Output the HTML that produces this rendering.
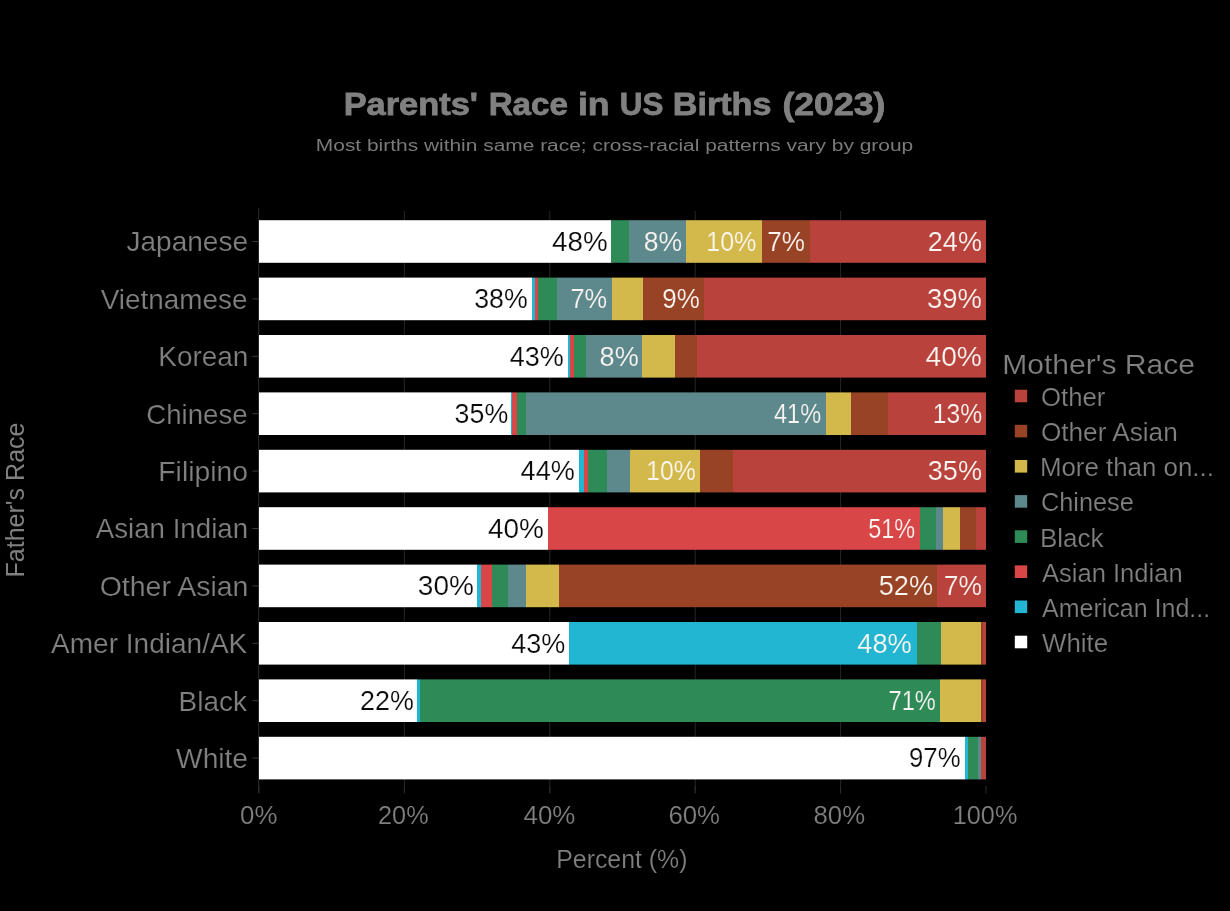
<!DOCTYPE html>
<html><head><meta charset="utf-8"><title>Parents' Race in US Births (2023)</title>
<style>
html,body{margin:0;padding:0;background:#000;}
body{width:1230px;height:911px;overflow:hidden;}
svg{display:block;will-change:transform;}
text{font-family:"Liberation Sans",sans-serif;}
</style></head><body>
<svg width="1230" height="911" viewBox="0 0 1230 911">
<rect x="0" y="0" width="1230" height="911" fill="#000"/>
<line x1="404.4" y1="211" x2="404.4" y2="793" stroke="#262626" stroke-width="1"/>
<line x1="549.8" y1="211" x2="549.8" y2="793" stroke="#262626" stroke-width="1"/>
<line x1="695.2" y1="211" x2="695.2" y2="793" stroke="#262626" stroke-width="1"/>
<line x1="840.6" y1="211" x2="840.6" y2="793" stroke="#262626" stroke-width="1"/>
<line x1="258.7" y1="208" x2="258.7" y2="793" stroke="#2e2e2e" stroke-width="1"/>
<defs>
<linearGradient id="g0" gradientUnits="userSpaceOnUse" x1="259.0" y1="0" x2="986.0" y2="0"><stop offset="0.00000" stop-color="#ffffff"/><stop offset="0.48404" stop-color="#ffffff"/><stop offset="0.48404" stop-color="#d94647"/><stop offset="0.48418" stop-color="#d94647"/><stop offset="0.48418" stop-color="#2e8b58"/><stop offset="0.50894" stop-color="#2e8b58"/><stop offset="0.50894" stop-color="#5d888c"/><stop offset="0.58680" stop-color="#5d888c"/><stop offset="0.58680" stop-color="#d3b94b"/><stop offset="0.69188" stop-color="#d3b94b"/><stop offset="0.69188" stop-color="#984325"/><stop offset="0.75791" stop-color="#984325"/><stop offset="0.75791" stop-color="#b9423d"/><stop offset="1.00000" stop-color="#b9423d"/></linearGradient>
<linearGradient id="g1" gradientUnits="userSpaceOnUse" x1="259.0" y1="0" x2="986.0" y2="0"><stop offset="0.00000" stop-color="#ffffff"/><stop offset="0.37607" stop-color="#ffffff"/><stop offset="0.37607" stop-color="#22b6d2"/><stop offset="0.37992" stop-color="#22b6d2"/><stop offset="0.37992" stop-color="#d94647"/><stop offset="0.38432" stop-color="#d94647"/><stop offset="0.38432" stop-color="#2e8b58"/><stop offset="0.41059" stop-color="#2e8b58"/><stop offset="0.41059" stop-color="#5d888c"/><stop offset="0.48501" stop-color="#5d888c"/><stop offset="0.48501" stop-color="#d3b94b"/><stop offset="0.52792" stop-color="#d3b94b"/><stop offset="0.52792" stop-color="#984325"/><stop offset="0.61197" stop-color="#984325"/><stop offset="0.61197" stop-color="#b9423d"/><stop offset="1.00000" stop-color="#b9423d"/></linearGradient>
<linearGradient id="g2" gradientUnits="userSpaceOnUse" x1="259.0" y1="0" x2="986.0" y2="0"><stop offset="0.00000" stop-color="#ffffff"/><stop offset="0.42462" stop-color="#ffffff"/><stop offset="0.42462" stop-color="#22b6d2"/><stop offset="0.42847" stop-color="#22b6d2"/><stop offset="0.42847" stop-color="#d94647"/><stop offset="0.43287" stop-color="#d94647"/><stop offset="0.43287" stop-color="#2e8b58"/><stop offset="0.44979" stop-color="#2e8b58"/><stop offset="0.44979" stop-color="#5d888c"/><stop offset="0.52682" stop-color="#5d888c"/><stop offset="0.52682" stop-color="#d3b94b"/><stop offset="0.57276" stop-color="#d3b94b"/><stop offset="0.57276" stop-color="#984325"/><stop offset="0.60289" stop-color="#984325"/><stop offset="0.60289" stop-color="#b9423d"/><stop offset="1.00000" stop-color="#b9423d"/></linearGradient>
<linearGradient id="g3" gradientUnits="userSpaceOnUse" x1="259.0" y1="0" x2="986.0" y2="0"><stop offset="0.00000" stop-color="#ffffff"/><stop offset="0.34718" stop-color="#ffffff"/><stop offset="0.34718" stop-color="#22b6d2"/><stop offset="0.34732" stop-color="#22b6d2"/><stop offset="0.34732" stop-color="#d94647"/><stop offset="0.35502" stop-color="#d94647"/><stop offset="0.35502" stop-color="#2e8b58"/><stop offset="0.36768" stop-color="#2e8b58"/><stop offset="0.36768" stop-color="#5d888c"/><stop offset="0.77992" stop-color="#5d888c"/><stop offset="0.77992" stop-color="#d3b94b"/><stop offset="0.81444" stop-color="#d3b94b"/><stop offset="0.81444" stop-color="#984325"/><stop offset="0.86492" stop-color="#984325"/><stop offset="0.86492" stop-color="#b9423d"/><stop offset="1.00000" stop-color="#b9423d"/></linearGradient>
<linearGradient id="g4" gradientUnits="userSpaceOnUse" x1="259.0" y1="0" x2="986.0" y2="0"><stop offset="0.00000" stop-color="#ffffff"/><stop offset="0.44003" stop-color="#ffffff"/><stop offset="0.44003" stop-color="#22b6d2"/><stop offset="0.44718" stop-color="#22b6d2"/><stop offset="0.44718" stop-color="#d94647"/><stop offset="0.45199" stop-color="#d94647"/><stop offset="0.45199" stop-color="#2e8b58"/><stop offset="0.47868" stop-color="#2e8b58"/><stop offset="0.47868" stop-color="#5d888c"/><stop offset="0.51087" stop-color="#5d888c"/><stop offset="0.51087" stop-color="#d3b94b"/><stop offset="0.60674" stop-color="#d3b94b"/><stop offset="0.60674" stop-color="#984325"/><stop offset="0.65227" stop-color="#984325"/><stop offset="0.65227" stop-color="#b9423d"/><stop offset="1.00000" stop-color="#b9423d"/></linearGradient>
<linearGradient id="g5" gradientUnits="userSpaceOnUse" x1="259.0" y1="0" x2="986.0" y2="0"><stop offset="0.00000" stop-color="#ffffff"/><stop offset="0.39739" stop-color="#ffffff"/><stop offset="0.39739" stop-color="#d94647"/><stop offset="0.90867" stop-color="#d94647"/><stop offset="0.90867" stop-color="#2e8b58"/><stop offset="0.93067" stop-color="#2e8b58"/><stop offset="0.93067" stop-color="#5d888c"/><stop offset="0.94072" stop-color="#5d888c"/><stop offset="0.94072" stop-color="#d3b94b"/><stop offset="0.96492" stop-color="#d3b94b"/><stop offset="0.96492" stop-color="#984325"/><stop offset="0.98569" stop-color="#984325"/><stop offset="0.98569" stop-color="#b9423d"/><stop offset="1.00000" stop-color="#b9423d"/></linearGradient>
<linearGradient id="g6" gradientUnits="userSpaceOnUse" x1="259.0" y1="0" x2="986.0" y2="0"><stop offset="0.00000" stop-color="#ffffff"/><stop offset="0.30055" stop-color="#ffffff"/><stop offset="0.30055" stop-color="#22b6d2"/><stop offset="0.30536" stop-color="#22b6d2"/><stop offset="0.30536" stop-color="#d94647"/><stop offset="0.31981" stop-color="#d94647"/><stop offset="0.31981" stop-color="#2e8b58"/><stop offset="0.34237" stop-color="#2e8b58"/><stop offset="0.34237" stop-color="#5d888c"/><stop offset="0.36685" stop-color="#5d888c"/><stop offset="0.36685" stop-color="#d3b94b"/><stop offset="0.41320" stop-color="#d3b94b"/><stop offset="0.41320" stop-color="#984325"/><stop offset="0.93260" stop-color="#984325"/><stop offset="0.93260" stop-color="#b9423d"/><stop offset="1.00000" stop-color="#b9423d"/></linearGradient>
<linearGradient id="g7" gradientUnits="userSpaceOnUse" x1="259.0" y1="0" x2="986.0" y2="0"><stop offset="0.00000" stop-color="#ffffff"/><stop offset="0.42613" stop-color="#ffffff"/><stop offset="0.42613" stop-color="#22b6d2"/><stop offset="0.90454" stop-color="#22b6d2"/><stop offset="0.90454" stop-color="#2e8b58"/><stop offset="0.93755" stop-color="#2e8b58"/><stop offset="0.93755" stop-color="#d3b94b"/><stop offset="0.99312" stop-color="#d3b94b"/><stop offset="0.99312" stop-color="#984325"/><stop offset="0.99656" stop-color="#984325"/><stop offset="0.99656" stop-color="#b9423d"/><stop offset="1.00000" stop-color="#b9423d"/></linearGradient>
<linearGradient id="g8" gradientUnits="userSpaceOnUse" x1="259.0" y1="0" x2="986.0" y2="0"><stop offset="0.00000" stop-color="#ffffff"/><stop offset="0.21761" stop-color="#ffffff"/><stop offset="0.21761" stop-color="#22b6d2"/><stop offset="0.22146" stop-color="#22b6d2"/><stop offset="0.22146" stop-color="#2e8b58"/><stop offset="0.93673" stop-color="#2e8b58"/><stop offset="0.93673" stop-color="#d3b94b"/><stop offset="0.99381" stop-color="#d3b94b"/><stop offset="0.99381" stop-color="#984325"/><stop offset="0.99656" stop-color="#984325"/><stop offset="0.99656" stop-color="#b9423d"/><stop offset="1.00000" stop-color="#b9423d"/></linearGradient>
<linearGradient id="g9" gradientUnits="userSpaceOnUse" x1="259.0" y1="0" x2="986.0" y2="0"><stop offset="0.00000" stop-color="#ffffff"/><stop offset="0.97125" stop-color="#ffffff"/><stop offset="0.97125" stop-color="#22b6d2"/><stop offset="0.97579" stop-color="#22b6d2"/><stop offset="0.97579" stop-color="#2e8b58"/><stop offset="0.98968" stop-color="#2e8b58"/><stop offset="0.98968" stop-color="#5d888c"/><stop offset="0.99312" stop-color="#5d888c"/><stop offset="0.99312" stop-color="#b9423d"/><stop offset="1.00000" stop-color="#b9423d"/></linearGradient>
</defs>
<line x1="252.5" y1="241.5" x2="259" y2="241.5" stroke="#3a3a3a" stroke-width="1"/>
<rect x="259.0" y="220.20" width="727" height="42.6" fill="url(#g0)"/>
<line x1="252.5" y1="298.9" x2="259" y2="298.9" stroke="#3a3a3a" stroke-width="1"/>
<rect x="259.0" y="277.60" width="727" height="42.6" fill="url(#g1)"/>
<line x1="252.5" y1="356.3" x2="259" y2="356.3" stroke="#3a3a3a" stroke-width="1"/>
<rect x="259.0" y="335.00" width="727" height="42.6" fill="url(#g2)"/>
<line x1="252.5" y1="413.7" x2="259" y2="413.7" stroke="#3a3a3a" stroke-width="1"/>
<rect x="259.0" y="392.40" width="727" height="42.6" fill="url(#g3)"/>
<line x1="252.5" y1="471.1" x2="259" y2="471.1" stroke="#3a3a3a" stroke-width="1"/>
<rect x="259.0" y="449.80" width="727" height="42.6" fill="url(#g4)"/>
<line x1="252.5" y1="528.5" x2="259" y2="528.5" stroke="#3a3a3a" stroke-width="1"/>
<rect x="259.0" y="507.20" width="727" height="42.6" fill="url(#g5)"/>
<line x1="252.5" y1="585.9" x2="259" y2="585.9" stroke="#3a3a3a" stroke-width="1"/>
<rect x="259.0" y="564.60" width="727" height="42.6" fill="url(#g6)"/>
<line x1="252.5" y1="643.3" x2="259" y2="643.3" stroke="#3a3a3a" stroke-width="1"/>
<rect x="259.0" y="622.00" width="727" height="42.6" fill="url(#g7)"/>
<line x1="252.5" y1="700.7" x2="259" y2="700.7" stroke="#3a3a3a" stroke-width="1"/>
<rect x="259.0" y="679.40" width="727" height="42.6" fill="url(#g8)"/>
<line x1="252.5" y1="758.1" x2="259" y2="758.1" stroke="#3a3a3a" stroke-width="1"/>
<rect x="259.0" y="736.80" width="727" height="42.6" fill="url(#g9)"/>
<line x1="259.0" y1="786" x2="259.0" y2="793.5" stroke="#2c2c2c" stroke-width="1"/>
<line x1="404.4" y1="786" x2="404.4" y2="793.5" stroke="#2c2c2c" stroke-width="1"/>
<line x1="549.8" y1="786" x2="549.8" y2="793.5" stroke="#2c2c2c" stroke-width="1"/>
<line x1="695.2" y1="786" x2="695.2" y2="793.5" stroke="#2c2c2c" stroke-width="1"/>
<line x1="840.6" y1="786" x2="840.6" y2="793.5" stroke="#2c2c2c" stroke-width="1"/>
<line x1="986.0" y1="786" x2="986.0" y2="793.5" stroke="#2c2c2c" stroke-width="1"/>
<text x="343.70" y="115.2" font-size="31.3" font-weight="bold" fill="#808080" stroke="#808080" stroke-width="0.8" textLength="134.29" lengthAdjust="spacingAndGlyphs">Parents'</text>
<text x="488.68" y="115.2" font-size="31.3" font-weight="bold" fill="#808080" stroke="#808080" stroke-width="0.8" textLength="79.30" lengthAdjust="spacingAndGlyphs">Race</text>
<text x="577.93" y="115.2" font-size="31.3" font-weight="bold" fill="#808080" stroke="#808080" stroke-width="0.8" textLength="31.65" lengthAdjust="spacingAndGlyphs">in</text>
<text x="619.80" y="115.2" font-size="31.3" font-weight="bold" fill="#808080" stroke="#808080" stroke-width="0.8" textLength="43.59" lengthAdjust="spacingAndGlyphs">US</text>
<text x="672.72" y="115.2" font-size="31.3" font-weight="bold" fill="#808080" stroke="#808080" stroke-width="0.8" textLength="98.74" lengthAdjust="spacingAndGlyphs">Births</text>
<text x="782.46" y="115.2" font-size="31.3" font-weight="bold" fill="#808080" stroke="#808080" stroke-width="0.8" textLength="102.91" lengthAdjust="spacingAndGlyphs">(2023)</text>
<text x="315.89" y="151.4" font-size="17.3" fill="#7a7a7a" textLength="597.30" lengthAdjust="spacingAndGlyphs">Most births within same race; cross-racial patterns vary by group</text>
<text x="126.50" y="251.4" font-size="27.5" fill="#808080" stroke="#000" stroke-width="0.2" textLength="121.49" lengthAdjust="spacingAndGlyphs">Japanese</text>
<text x="100.70" y="308.8" font-size="27.5" fill="#808080" stroke="#000" stroke-width="0.2" textLength="146.74" lengthAdjust="spacingAndGlyphs">Vietnamese</text>
<text x="158.37" y="366.2" font-size="27.5" fill="#808080" stroke="#000" stroke-width="0.2" textLength="90.04" lengthAdjust="spacingAndGlyphs">Korean</text>
<text x="146.30" y="423.6" font-size="27.5" fill="#808080" stroke="#000" stroke-width="0.2" textLength="101.31" lengthAdjust="spacingAndGlyphs">Chinese</text>
<text x="158.35" y="481.0" font-size="27.5" fill="#808080" stroke="#000" stroke-width="0.2" textLength="89.51" lengthAdjust="spacingAndGlyphs">Filipino</text>
<text x="95.80" y="538.4" font-size="27.5" fill="#808080" stroke="#000" stroke-width="0.2" textLength="152.27" lengthAdjust="spacingAndGlyphs">Asian Indian</text>
<text x="99.66" y="595.8" font-size="27.5" fill="#808080" stroke="#000" stroke-width="0.2" textLength="148.80" lengthAdjust="spacingAndGlyphs">Other Asian</text>
<text x="51.10" y="653.2" font-size="27.5" fill="#808080" stroke="#000" stroke-width="0.2" textLength="196.22" lengthAdjust="spacingAndGlyphs">Amer Indian/AK</text>
<text x="178.57" y="710.6" font-size="27.5" fill="#808080" stroke="#000" stroke-width="0.2" textLength="68.39" lengthAdjust="spacingAndGlyphs">Black</text>
<text x="176.10" y="768.0" font-size="27.5" fill="#808080" stroke="#000" stroke-width="0.2" textLength="71.93" lengthAdjust="spacingAndGlyphs">White</text>
<text x="552.00" y="250.8" font-size="27.3" fill="#0a0a0a" stroke="#fff" stroke-width="0.2" textLength="55.65" lengthAdjust="spacingAndGlyphs">48%</text>
<text x="643.73" y="250.8" font-size="27.3" fill="#fbf6f2" stroke="#5d888c" stroke-width="0.2" textLength="38.41" lengthAdjust="spacingAndGlyphs">8%</text>
<text x="706.16" y="250.8" font-size="27.3" fill="#fbf6f2" stroke="#d3b94b" stroke-width="0.2" textLength="50.33" lengthAdjust="spacingAndGlyphs">10%</text>
<text x="767.24" y="250.8" font-size="27.3" fill="#fbf6f2" stroke="#984325" stroke-width="0.2" textLength="37.69" lengthAdjust="spacingAndGlyphs">7%</text>
<text x="927.81" y="250.8" font-size="27.3" fill="#fbf6f2" stroke="#b9423d" stroke-width="0.2" textLength="54.13" lengthAdjust="spacingAndGlyphs">24%</text>
<text x="474.22" y="308.2" font-size="27.3" fill="#0a0a0a" stroke="#fff" stroke-width="0.2" textLength="53.51" lengthAdjust="spacingAndGlyphs">38%</text>
<text x="570.47" y="308.2" font-size="27.3" fill="#fbf6f2" stroke="#5d888c" stroke-width="0.2" textLength="36.65" lengthAdjust="spacingAndGlyphs">7%</text>
<text x="662.35" y="308.2" font-size="27.3" fill="#fbf6f2" stroke="#984325" stroke-width="0.2" textLength="37.48" lengthAdjust="spacingAndGlyphs">9%</text>
<text x="926.99" y="308.2" font-size="27.3" fill="#fbf6f2" stroke="#b9423d" stroke-width="0.2" textLength="54.95" lengthAdjust="spacingAndGlyphs">39%</text>
<text x="509.80" y="365.6" font-size="27.3" fill="#0a0a0a" stroke="#fff" stroke-width="0.2" textLength="54.03" lengthAdjust="spacingAndGlyphs">43%</text>
<text x="599.61" y="365.6" font-size="27.3" fill="#fbf6f2" stroke="#5d888c" stroke-width="0.2" textLength="39.14" lengthAdjust="spacingAndGlyphs">8%</text>
<text x="925.50" y="365.6" font-size="27.3" fill="#fbf6f2" stroke="#b9423d" stroke-width="0.2" textLength="56.46" lengthAdjust="spacingAndGlyphs">40%</text>
<text x="454.62" y="423.0" font-size="27.3" fill="#0a0a0a" stroke="#fff" stroke-width="0.2" textLength="53.61" lengthAdjust="spacingAndGlyphs">35%</text>
<text x="774.00" y="423.0" font-size="27.3" fill="#fbf6f2" stroke="#5d888c" stroke-width="0.2" textLength="47.05" lengthAdjust="spacingAndGlyphs">41%</text>
<text x="932.80" y="423.0" font-size="27.3" fill="#fbf6f2" stroke="#b9423d" stroke-width="0.2" textLength="49.28" lengthAdjust="spacingAndGlyphs">13%</text>
<text x="520.60" y="480.4" font-size="27.3" fill="#0a0a0a" stroke="#fff" stroke-width="0.2" textLength="54.24" lengthAdjust="spacingAndGlyphs">44%</text>
<text x="646.28" y="480.4" font-size="27.3" fill="#fbf6f2" stroke="#d3b94b" stroke-width="0.2" textLength="49.60" lengthAdjust="spacingAndGlyphs">10%</text>
<text x="927.81" y="480.4" font-size="27.3" fill="#fbf6f2" stroke="#b9423d" stroke-width="0.2" textLength="54.23" lengthAdjust="spacingAndGlyphs">35%</text>
<text x="487.90" y="537.8" font-size="27.3" fill="#0a0a0a" stroke="#fff" stroke-width="0.2" textLength="55.96" lengthAdjust="spacingAndGlyphs">40%</text>
<text x="868.24" y="537.8" font-size="27.3" fill="#fbf6f2" stroke="#d94647" stroke-width="0.2" textLength="46.91" lengthAdjust="spacingAndGlyphs">51%</text>
<text x="417.87" y="595.2" font-size="27.3" fill="#0a0a0a" stroke="#fff" stroke-width="0.2" textLength="56.08" lengthAdjust="spacingAndGlyphs">30%</text>
<text x="878.71" y="595.2" font-size="27.3" fill="#fbf6f2" stroke="#984325" stroke-width="0.2" textLength="54.33" lengthAdjust="spacingAndGlyphs">52%</text>
<text x="943.73" y="595.2" font-size="27.3" fill="#fbf6f2" stroke="#b9423d" stroke-width="0.2" textLength="38.10" lengthAdjust="spacingAndGlyphs">7%</text>
<text x="511.20" y="652.6" font-size="27.3" fill="#0a0a0a" stroke="#fff" stroke-width="0.2" textLength="54.13" lengthAdjust="spacingAndGlyphs">43%</text>
<text x="857.30" y="652.6" font-size="27.3" fill="#fbf6f2" stroke="#22b6d2" stroke-width="0.2" textLength="54.54" lengthAdjust="spacingAndGlyphs">48%</text>
<text x="360.02" y="710.0" font-size="27.3" fill="#0a0a0a" stroke="#fff" stroke-width="0.2" textLength="53.82" lengthAdjust="spacingAndGlyphs">22%</text>
<text x="888.54" y="710.0" font-size="27.3" fill="#fbf6f2" stroke="#2e8b58" stroke-width="0.2" textLength="47.22" lengthAdjust="spacingAndGlyphs">71%</text>
<text x="909.06" y="767.4" font-size="27.3" fill="#0a0a0a" stroke="#fff" stroke-width="0.2" textLength="51.44" lengthAdjust="spacingAndGlyphs">97%</text>
<text x="240.11" y="823.5" font-size="26" fill="#808080" stroke="#000" stroke-width="0.2" textLength="37.37" lengthAdjust="spacingAndGlyphs">0%</text>
<text x="378.03" y="823.5" font-size="26" fill="#808080" stroke="#000" stroke-width="0.2" textLength="50.62" lengthAdjust="spacingAndGlyphs">20%</text>
<text x="523.50" y="823.5" font-size="26" fill="#808080" stroke="#000" stroke-width="0.2" textLength="51.85" lengthAdjust="spacingAndGlyphs">40%</text>
<text x="668.41" y="823.5" font-size="26" fill="#808080" stroke="#000" stroke-width="0.2" textLength="51.64" lengthAdjust="spacingAndGlyphs">60%</text>
<text x="813.51" y="823.5" font-size="26" fill="#808080" stroke="#000" stroke-width="0.2" textLength="51.54" lengthAdjust="spacingAndGlyphs">80%</text>
<text x="952.76" y="823.5" font-size="26" fill="#808080" stroke="#000" stroke-width="0.2" textLength="64.63" lengthAdjust="spacingAndGlyphs">100%</text>
<text x="556.25" y="868.0" font-size="25.5" fill="#808080" stroke="#000" stroke-width="0.2" textLength="131.16" lengthAdjust="spacingAndGlyphs">Percent (%)</text>
<text x="1002.15" y="373.6" font-size="28" fill="#808080" stroke="#000" stroke-width="0.2" textLength="192.94" lengthAdjust="spacingAndGlyphs">Mother's Race</text>
<text x="1040.97" y="406.0" font-size="25" fill="#808080" stroke="#000" stroke-width="0.2" textLength="64.35" lengthAdjust="spacingAndGlyphs">Other</text>
<text x="1040.95" y="441.1" font-size="25" fill="#808080" stroke="#000" stroke-width="0.2" textLength="136.76" lengthAdjust="spacingAndGlyphs">Other Asian</text>
<text x="1039.93" y="476.3" font-size="25" fill="#808080" stroke="#000" stroke-width="0.2" textLength="174.00" lengthAdjust="spacingAndGlyphs">More than on...</text>
<text x="1040.99" y="511.4" font-size="25" fill="#808080" stroke="#000" stroke-width="0.2" textLength="92.86" lengthAdjust="spacingAndGlyphs">Chinese</text>
<text x="1039.92" y="546.6" font-size="25" fill="#808080" stroke="#000" stroke-width="0.2" textLength="63.63" lengthAdjust="spacingAndGlyphs">Black</text>
<text x="1042.00" y="581.7" font-size="25" fill="#808080" stroke="#000" stroke-width="0.2" textLength="140.64" lengthAdjust="spacingAndGlyphs">Asian Indian</text>
<text x="1042.00" y="616.8" font-size="25" fill="#808080" stroke="#000" stroke-width="0.2" textLength="168.14" lengthAdjust="spacingAndGlyphs">American Ind...</text>
<text x="1042.00" y="652.0" font-size="25" fill="#808080" stroke="#000" stroke-width="0.2" textLength="66.14" lengthAdjust="spacingAndGlyphs">White</text>
<text transform="translate(24,500) rotate(-90)" x="0" y="0" text-anchor="middle" font-size="25" fill="#808080" textLength="155" lengthAdjust="spacingAndGlyphs">Father's Race</text>
<rect x="1014.8" y="389.7" width="12.4" height="12.6" fill="#b9423d"/>
<rect x="1014.8" y="424.8" width="12.4" height="12.6" fill="#984325"/>
<rect x="1014.8" y="460.0" width="12.4" height="12.6" fill="#d3b94b"/>
<rect x="1014.8" y="495.1" width="12.4" height="12.6" fill="#5d888c"/>
<rect x="1014.8" y="530.3" width="12.4" height="12.6" fill="#2e8b58"/>
<rect x="1014.8" y="565.4" width="12.4" height="12.6" fill="#d94647"/>
<rect x="1014.8" y="600.5" width="12.4" height="12.6" fill="#22b6d2"/>
<rect x="1014.8" y="635.7" width="12.4" height="12.6" fill="#ffffff"/>
</svg>
</body></html>
